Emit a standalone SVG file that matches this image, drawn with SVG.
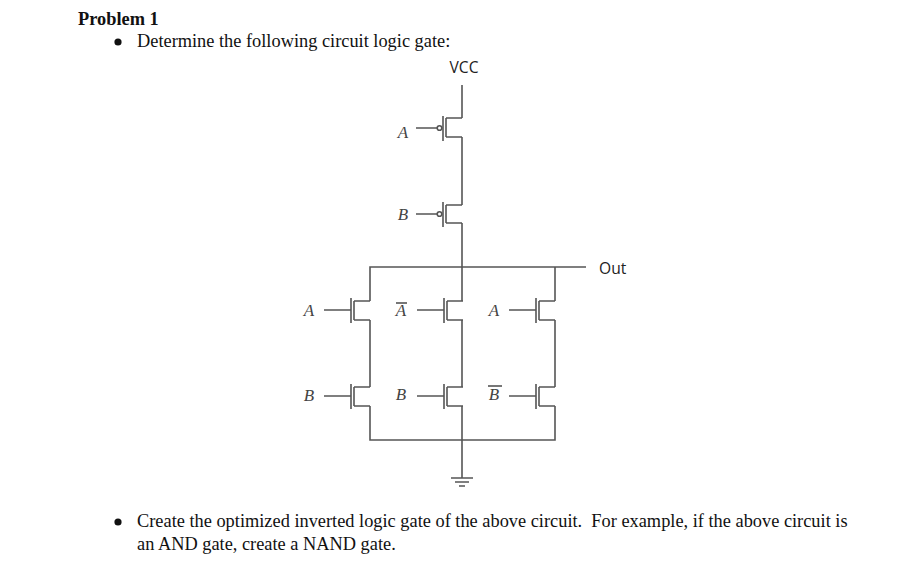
<svg xmlns="http://www.w3.org/2000/svg" width="915" height="563" viewBox="0 0 915 563">
<defs>
<style>
.w{fill:none;stroke:#555;stroke-width:1.6}
.t{font-family:"Liberation Serif",serif;font-size:18.35px;fill:#111}
.s{font-family:"Open Sans",sans-serif;font-size:15.6px;fill:#222}
.l{font-family:"Liberation Serif",serif;font-style:italic;font-size:17px;fill:#444;text-anchor:middle}
</style>
<g id="fet" class="w"><path d="M-27 0H0M0-12V13"/><path d="M3-9V10M3-9H19M3 10H19"/></g>
</defs>
<rect width="915" height="563" fill="#fff"/>
<g id="text">
<text class="t" x="78" y="25" style="font-weight:bold">Problem 1</text>
<circle cx="118" cy="42" r="3.6" fill="#111"/>
<text class="t" x="137" y="47">Determine the following circuit logic gate:</text>
<circle cx="118" cy="522" r="3.6" fill="#111"/>
<text class="t" x="137" y="527">Create the optimized inverted logic gate of the above circuit.&#160; For example, if the above circuit is</text>
<text class="t" x="137" y="550">an AND gate, create a NAND gate.</text>
</g>
<g id="connectors" class="w">
<path d="M462 85V118"/>
<path d="M462 137V205"/>
<path d="M462 223V301"/>
<path d="M370 301V267H586"/>
<path d="M555 267V301"/>
<path d="M370 320V387M462 320V387M555 320V387"/>
<path d="M370 406V440H555V406"/>
<path d="M462 406V478"/>
</g>
<g id="vcc"><text class="s" x="464" y="73" text-anchor="middle">VCC</text></g>
<g id="out"><text class="s" x="599" y="274">Out</text></g>
<g id="ground" class="w"><path d="M451 478H473M455 482H469M459 486H465"/></g>
<g id="pmos-a" class="w" transform="translate(443 128)"><path d="M-27 0H-6M0-12V13"/><circle cx="-3.500" cy="0" r="2.300" fill="#fff"/><path d="M3-10V9M3-10H19M3 9H19"/></g>
<g id="pmos-b" class="w" transform="translate(443 214)"><path d="M-27 0H-6M0-12V13"/><circle cx="-3.500" cy="0" r="2.300" fill="#fff"/><path d="M3-9V9M3-9H19M3 9H19"/></g>
<g id="nmos-1"><use href="#fet" transform="translate(351 310)"/></g>
<g id="nmos-2"><use href="#fet" transform="translate(351 396)"/></g>
<g id="nmos-3"><use href="#fet" transform="translate(444 310)"/></g>
<g id="nmos-4"><use href="#fet" transform="translate(444 396)"/></g>
<g id="nmos-5"><use href="#fet" transform="translate(536 310)"/></g>
<g id="nmos-6"><use href="#fet" transform="translate(536 396)"/></g>
<g id="labels">
<text class="l" x="403" y="138">A</text>
<text class="l" x="403" y="220">B</text>
<text class="l" x="309" y="316">A</text>
<text class="l" x="309" y="401">B</text>
<text class="l" x="401" y="316">A</text>
<path class="w" d="M396 303H407"/>
<text class="l" x="401" y="400">B</text>
<text class="l" x="494" y="316">A</text>
<text class="l" x="494" y="400">B</text>
<path class="w" d="M488 386H502"/>
</g>
</svg>
